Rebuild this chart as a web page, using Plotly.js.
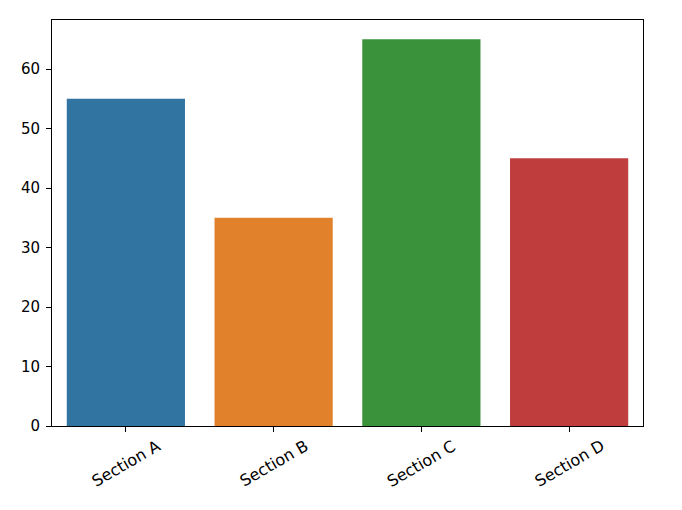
<!DOCTYPE html>
<html><head><meta charset="utf-8">
<script src="https://cdn.plot.ly/plotly-3.0.1.min.js"></script>
<style>html,body{margin:0;padding:0;background:#fff}#chart{width:682px;height:510px}</style>
</head><body><div id="chart"></div>
<script>
const categories = ["Section A", "Section B", "Section C", "Section D"];
const values = [55, 35, 65, 45];
const colors = ["#3274a1", "#e1812c", "#3a923a", "#c03d3e"];
const yTicks = [0, 10, 20, 30, 40, 50, 60];

const trace = {
  type: "bar",
  x: categories,
  y: values,
  marker: {color: colors, line: {width: 0}},
  width: 0.8,
  hoverinfo: "none"
};
const font = {family: "DejaVu Sans", size: 15, color: "#000"};
const labelFont = {family: "DejaVu Sans", size: 16, color: "#000"};
const annotations = categories.map(c => ({
  x: c, xref: "x", y: 0, yref: "paper",
  text: c, showarrow: false, textangle: -30,
  xanchor: "center", yanchor: "middle", yshift: -37,
  font: labelFont
}));
const layout = {
  width: 682, height: 510,
  margin: {l: 52, r: 39, t: 20, b: 84},
  paper_bgcolor: "#fff", plot_bgcolor: "#fff",
  showlegend: false,
  font: font,
  bargap: 0.2,
  annotations: annotations,
  xaxis: {
    type: "category", range: [-0.5, 3.5],
    showline: true, linecolor: "#000", linewidth: 1, mirror: true,
    ticks: "outside", ticklen: 5, tickwidth: 1, tickcolor: "#000",
    showticklabels: false, showgrid: false, zeroline: false
  },
  yaxis: {
    range: [0, 68.25], tickvals: yTicks,
    showline: true, linecolor: "#000", linewidth: 1, mirror: true,
    ticks: "outside", ticklen: 5, tickwidth: 1, tickcolor: "#000",
    ticklabelstandoff: 3,
    tickfont: font, showgrid: false, zeroline: false
  }
};
Plotly.newPlot("chart", [trace], layout, {displayModeBar: false, staticPlot: true});
</script></body></html>
